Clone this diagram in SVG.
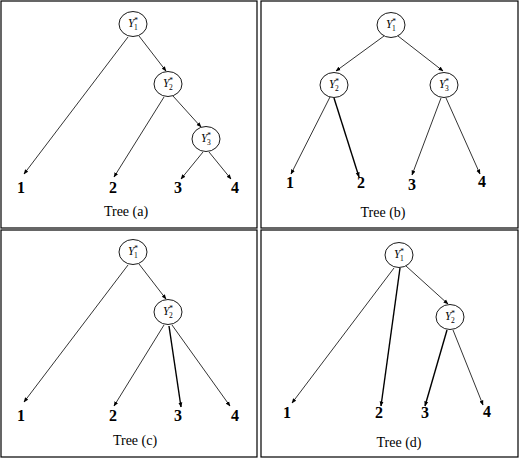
<svg xmlns="http://www.w3.org/2000/svg" width="520" height="459" viewBox="0 0 520 459">
<defs>
<marker id="ah" viewBox="0 0 10 10" refX="9" refY="5" markerWidth="5" markerHeight="5" markerUnits="userSpaceOnUse" orient="auto">
<path d="M0,1 L10,5 L0,9 Z" fill="#000"/>
</marker>
</defs>
<style>
.panel{fill:#fff;stroke:#000;stroke-width:1.2}
.node ellipse{fill:#fff;stroke:#000;stroke-width:0.9}
.nt{font-family:"Liberation Serif",serif;font-size:11.5px;text-anchor:middle}
.sm{font-size:7.5px;font-style:normal}
.leaf{font-family:"Liberation Serif",serif;font-size:16px;font-weight:bold;text-anchor:middle}
.cap{font-family:"Liberation Serif",serif;font-size:14px;text-anchor:middle}
.e{stroke:#000;stroke-width:0.8;fill:none;marker-end:url(#ah)}
.th{stroke-width:1.4}
</style>
<rect width="520" height="459" fill="#fff"/>
<rect class="panel" x="1" y="1" width="256" height="227"/>
<rect class="panel" x="261" y="1" width="257" height="227"/>
<rect class="panel" x="1" y="230" width="256" height="227"/>
<rect class="panel" x="261" y="230" width="257" height="227"/>

<g id="connectors">
<line class="e" x1="128" y1="37" x2="24" y2="174"/>
<line class="e" x1="139" y1="36" x2="166" y2="71"/>
<line class="e" x1="164" y1="97" x2="114" y2="177"/>
<line class="e" x1="173" y1="96" x2="201" y2="127"/>
<line class="e" x1="203" y1="152" x2="181" y2="179"/>
<line class="e" x1="209" y1="152" x2="231" y2="179"/>

<line class="e" x1="384" y1="36" x2="336" y2="71"/>
<line class="e" x1="398" y1="36" x2="443" y2="71"/>
<line class="e" x1="330" y1="97" x2="291" y2="174"/>
<line class="e th" x1="334" y1="98" x2="359" y2="177"/>
<line class="e" x1="441" y1="98" x2="412" y2="175"/>
<line class="e" x1="446" y1="98" x2="480" y2="174"/>

<line class="e" x1="128" y1="265" x2="24" y2="402"/>
<line class="e" x1="139" y1="264" x2="166" y2="299"/>
<line class="e" x1="164" y1="325" x2="114" y2="406"/>
<line class="e th" x1="169" y1="326" x2="181" y2="407"/>
<line class="e" x1="172" y1="325" x2="230" y2="406"/>

<line class="e" x1="394" y1="268" x2="292" y2="403"/>
<line class="e th" x1="400" y1="268" x2="381" y2="406"/>
<line class="e" x1="406" y1="266" x2="448" y2="304"/>
<line class="e th" x1="447" y1="330" x2="425" y2="406"/>
<line class="e" x1="453" y1="330" x2="483" y2="405"/>
</g>

<g id="a-Y1" class="node"><ellipse cx="133" cy="24" rx="14" ry="12.5"/><text class="nt" x="133" y="27"><tspan font-style="italic">Y</tspan><tspan class="sm" dy="-4.5">*</tspan><tspan class="sm" dx="-4" dy="7.5">1</tspan></text></g>
<g id="a-Y2" class="node"><ellipse cx="168" cy="84" rx="14" ry="12.5"/><text class="nt" x="168" y="87"><tspan font-style="italic">Y</tspan><tspan class="sm" dy="-4.5">*</tspan><tspan class="sm" dx="-4" dy="7.5">2</tspan></text></g>
<g id="a-Y3" class="node"><ellipse cx="206" cy="139" rx="14" ry="12.5"/><text class="nt" x="206" y="142"><tspan font-style="italic">Y</tspan><tspan class="sm" dy="-4.5">*</tspan><tspan class="sm" dx="-4" dy="7.5">3</tspan></text></g>
<g id="a-leaves"><text class="leaf" x="21" y="193">1</text><text class="leaf" x="113" y="193">2</text><text class="leaf" x="178" y="193">3</text><text class="leaf" x="235" y="193">4</text><text class="cap" x="126" y="216">Tree (a)</text></g>

<g id="b-Y1" class="node"><ellipse cx="391" cy="25" rx="14" ry="12.5"/><text class="nt" x="391" y="28"><tspan font-style="italic">Y</tspan><tspan class="sm" dy="-4.5">*</tspan><tspan class="sm" dx="-4" dy="7.5">1</tspan></text></g>
<g id="b-Y2" class="node"><ellipse cx="334" cy="85" rx="14" ry="12.5"/><text class="nt" x="334" y="88"><tspan font-style="italic">Y</tspan><tspan class="sm" dy="-4.5">*</tspan><tspan class="sm" dx="-4" dy="7.5">2</tspan></text></g>
<g id="b-Y3" class="node"><ellipse cx="444" cy="85" rx="14" ry="12.5"/><text class="nt" x="444" y="88"><tspan font-style="italic">Y</tspan><tspan class="sm" dy="-4.5">*</tspan><tspan class="sm" dx="-4" dy="7.5">3</tspan></text></g>
<g id="b-leaves"><text class="leaf" x="290" y="188">1</text><text class="leaf" x="361" y="188">2</text><text class="leaf" x="412" y="190">3</text><text class="leaf" x="482" y="187">4</text><text class="cap" x="383" y="217">Tree (b)</text></g>

<g id="c-Y1" class="node"><ellipse cx="133" cy="252" rx="14" ry="12.5"/><text class="nt" x="133" y="255"><tspan font-style="italic">Y</tspan><tspan class="sm" dy="-4.5">*</tspan><tspan class="sm" dx="-4" dy="7.5">1</tspan></text></g>
<g id="c-Y2" class="node"><ellipse cx="168" cy="312" rx="14" ry="12.5"/><text class="nt" x="168" y="315"><tspan font-style="italic">Y</tspan><tspan class="sm" dy="-4.5">*</tspan><tspan class="sm" dx="-4" dy="7.5">2</tspan></text></g>
<g id="c-leaves"><text class="leaf" x="21" y="421">1</text><text class="leaf" x="113" y="421">2</text><text class="leaf" x="178" y="421">3</text><text class="leaf" x="235" y="421">4</text><text class="cap" x="135" y="445">Tree (c)</text></g>

<g id="d-Y1" class="node"><ellipse cx="399" cy="255" rx="14" ry="12.5"/><text class="nt" x="399" y="258"><tspan font-style="italic">Y</tspan><tspan class="sm" dy="-4.5">*</tspan><tspan class="sm" dx="-4" dy="7.5">1</tspan></text></g>
<g id="d-Y2" class="node"><ellipse cx="450" cy="317" rx="14" ry="12.5"/><text class="nt" x="450" y="320"><tspan font-style="italic">Y</tspan><tspan class="sm" dy="-4.5">*</tspan><tspan class="sm" dx="-4" dy="7.5">2</tspan></text></g>
<g id="d-leaves"><text class="leaf" x="287" y="418">1</text><text class="leaf" x="379" y="418">2</text><text class="leaf" x="425" y="418">3</text><text class="leaf" x="487" y="417">4</text><text class="cap" x="399" y="447">Tree (d)</text></g>
</svg>
